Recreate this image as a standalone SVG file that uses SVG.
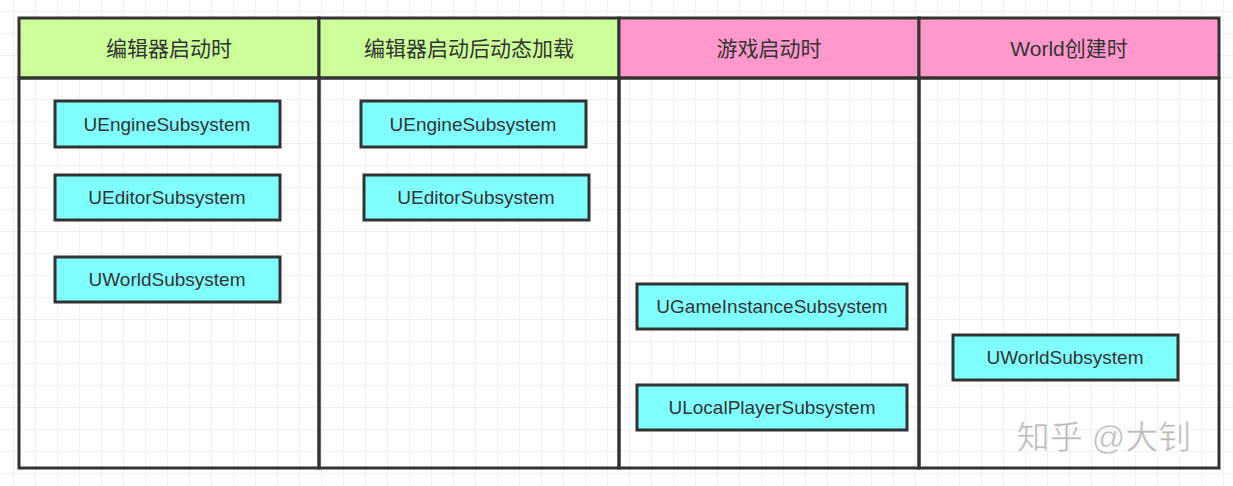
<svg xmlns="http://www.w3.org/2000/svg" width="1233" height="486" viewBox="0 0 1233 486">
<style>
.h{stroke:#333;stroke-width:3}
.b rect{fill:#80ffff;stroke:#333;stroke-width:3}
text{font-family:"Liberation Sans","Noto Sans CJK SC",sans-serif;text-anchor:middle}
.b text{font-size:19px;fill:#333}
.t{font-size:21px;fill:#333}
</style>
<defs><pattern id="g" width="22" height="22" patternUnits="userSpaceOnUse" x="13" y="11"><path d="M0 0H22M0 0V22" fill="none" stroke="#e4e4e4" stroke-width="1"/></pattern></defs>
<rect width="1233" height="486" fill="#fff"/>
<rect width="1233" height="486" fill="url(#g)"/>
<g id="headers">
<rect x="19" y="18" width="300" height="60" fill="#ccff99" class="h"/>
<rect x="319" y="18" width="300" height="60" fill="#ccff99" class="h"/>
<rect x="619" y="18" width="300" height="60" fill="#ff99cc" class="h"/>
<rect x="919" y="18" width="300" height="60" fill="#ff99cc" class="h"/>
<text class="t" x="169" y="56">编辑器启动时</text>
<text class="t" x="469" y="56">编辑器启动后动态加载</text>
<text class="t" x="769" y="56">游戏启动时</text>
<text class="t" x="1069" y="56">World创建时</text>
</g>
<g id="columns" fill="none" class="h">
<rect x="19" y="78" width="300" height="390" class="h" fill="none"/>
<rect x="319" y="78" width="300" height="390" class="h" fill="none"/>
<rect x="619" y="78" width="300" height="390" class="h" fill="none"/>
<rect x="919" y="78" width="300" height="390" class="h" fill="none"/>
</g>
<g id="n1" class="b"><rect x="55" y="101" width="225" height="46"/><text x="167" y="131">UEngineSubsystem</text></g>
<g id="n2" class="b"><rect x="55" y="175" width="225" height="45"/><text x="167" y="204">UEditorSubsystem</text></g>
<g id="n3" class="b"><rect x="55" y="257" width="225" height="45"/><text x="167" y="286">UWorldSubsystem</text></g>
<g id="n4" class="b"><rect x="361" y="101" width="225" height="46"/><text x="473" y="131">UEngineSubsystem</text></g>
<g id="n5" class="b"><rect x="364" y="175" width="225" height="45"/><text x="476" y="204">UEditorSubsystem</text></g>
<g id="n6" class="b"><rect x="637" y="284" width="270" height="45"/><text x="772" y="313">UGameInstanceSubsystem</text></g>
<g id="n7" class="b"><rect x="637" y="385" width="270" height="45"/><text x="772" y="414">ULocalPlayerSubsystem</text></g>
<g id="n8" class="b"><rect x="953" y="335" width="225" height="45"/><text x="1065" y="364">UWorldSubsystem</text></g>
<g id="connectors"></g>
<text x="1104" y="449" style="font-size:33px;fill:#bbb;stroke:#fff;stroke-width:0.5">知乎 @大钊</text>
</svg>
